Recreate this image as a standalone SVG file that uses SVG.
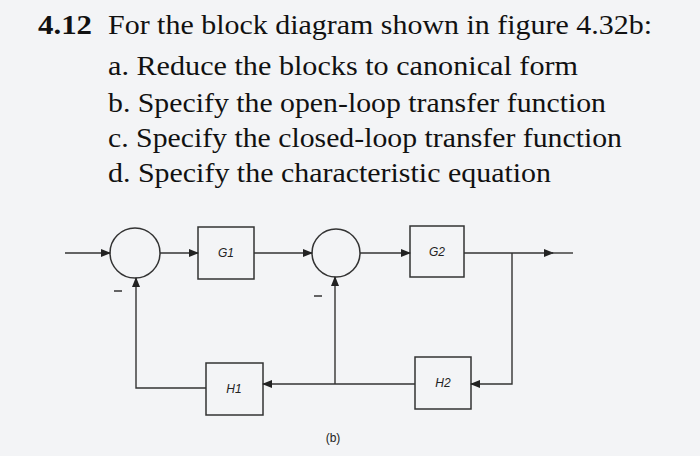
<svg xmlns="http://www.w3.org/2000/svg" width="700" height="456" viewBox="0 0 700 456">
<defs>
<marker id="a" markerWidth="10" markerHeight="8" refX="9" refY="4" orient="auto" markerUnits="userSpaceOnUse"><path d="M0,0 L10,4 L0,8 Z" fill="#222"/></marker>
<style>
.t{font-family:"Liberation Serif",serif;font-size:28px;fill:#111}
.b{fill:none;stroke:#333;stroke-width:1.5}
.l{fill:none;stroke:#333;stroke-width:1.4}
.s{font-family:"Liberation Sans",sans-serif;font-size:12px;font-style:italic;fill:#222;text-anchor:middle}
</style>
</defs>
<rect width="700" height="456" fill="#f3f4f6"/>
<g id="text">
<text class="t" x="38" y="34" font-weight="bold" textLength="54" lengthAdjust="spacingAndGlyphs">4.12</text>
<text class="t" x="108" y="34" textLength="544" lengthAdjust="spacingAndGlyphs">For the block diagram shown in figure 4.32b:</text>
<text class="t" x="108" y="75" textLength="470" lengthAdjust="spacingAndGlyphs">a. Reduce the blocks to canonical form</text>
<text class="t" x="108" y="112" textLength="498" lengthAdjust="spacingAndGlyphs">b. Specify the open-loop transfer function</text>
<text class="t" x="108" y="147" textLength="514" lengthAdjust="spacingAndGlyphs">c. Specify the closed-loop transfer function</text>
<text class="t" x="108" y="182" textLength="443" lengthAdjust="spacingAndGlyphs">d. Specify the characteristic equation</text>
</g>
<g id="sum1"><circle class="b" cx="135" cy="253" r="25"/></g>
<g id="G1"><rect class="b" x="198" y="227" width="56" height="52"/><text class="s" x="226" y="257">G1</text></g>
<g id="sum2"><circle class="b" cx="336" cy="253" r="24"/></g>
<g id="G2"><rect class="b" x="410" y="226" width="54" height="51"/><text class="s" x="437" y="256">G2</text></g>
<g id="H2"><rect class="b" x="415" y="357" width="56" height="52"/><text class="s" x="443" y="387">H2</text></g>
<g id="H1"><rect class="b" x="206" y="363" width="57" height="52"/><text class="s" x="234" y="393">H1</text></g>
<g id="connectors">
<line class="l" x1="65" y1="253" x2="110" y2="253" marker-end="url(#a)"/>
<line class="l" x1="160" y1="253" x2="198" y2="253" marker-end="url(#a)"/>
<line class="l" x1="254" y1="253" x2="312" y2="253" marker-end="url(#a)"/>
<line class="l" x1="360" y1="253" x2="410" y2="253" marker-end="url(#a)"/>
<line class="l" x1="464" y1="253" x2="553" y2="253" marker-end="url(#a)"/>
<line class="l" x1="550" y1="253" x2="573" y2="253"/>
<polyline class="l" points="512,253 512,384 471,384" marker-end="url(#a)"/>
<line class="l" x1="415" y1="384" x2="263" y2="384" marker-end="url(#a)"/>
<line class="l" x1="335" y1="384" x2="335" y2="277" marker-end="url(#a)"/>
<polyline class="l" points="206,388 136,388 136,278" marker-end="url(#a)"/>
</g>
<g id="labels" font-family="Liberation Sans,sans-serif" font-size="12" fill="#222">
<line x1="114" y1="291" x2="122" y2="291" stroke="#333" stroke-width="1.5"/>
<line x1="314" y1="296" x2="322" y2="296" stroke="#333" stroke-width="1.5"/>
<text x="333" y="442" text-anchor="middle">(b)</text>
</g>
</svg>
